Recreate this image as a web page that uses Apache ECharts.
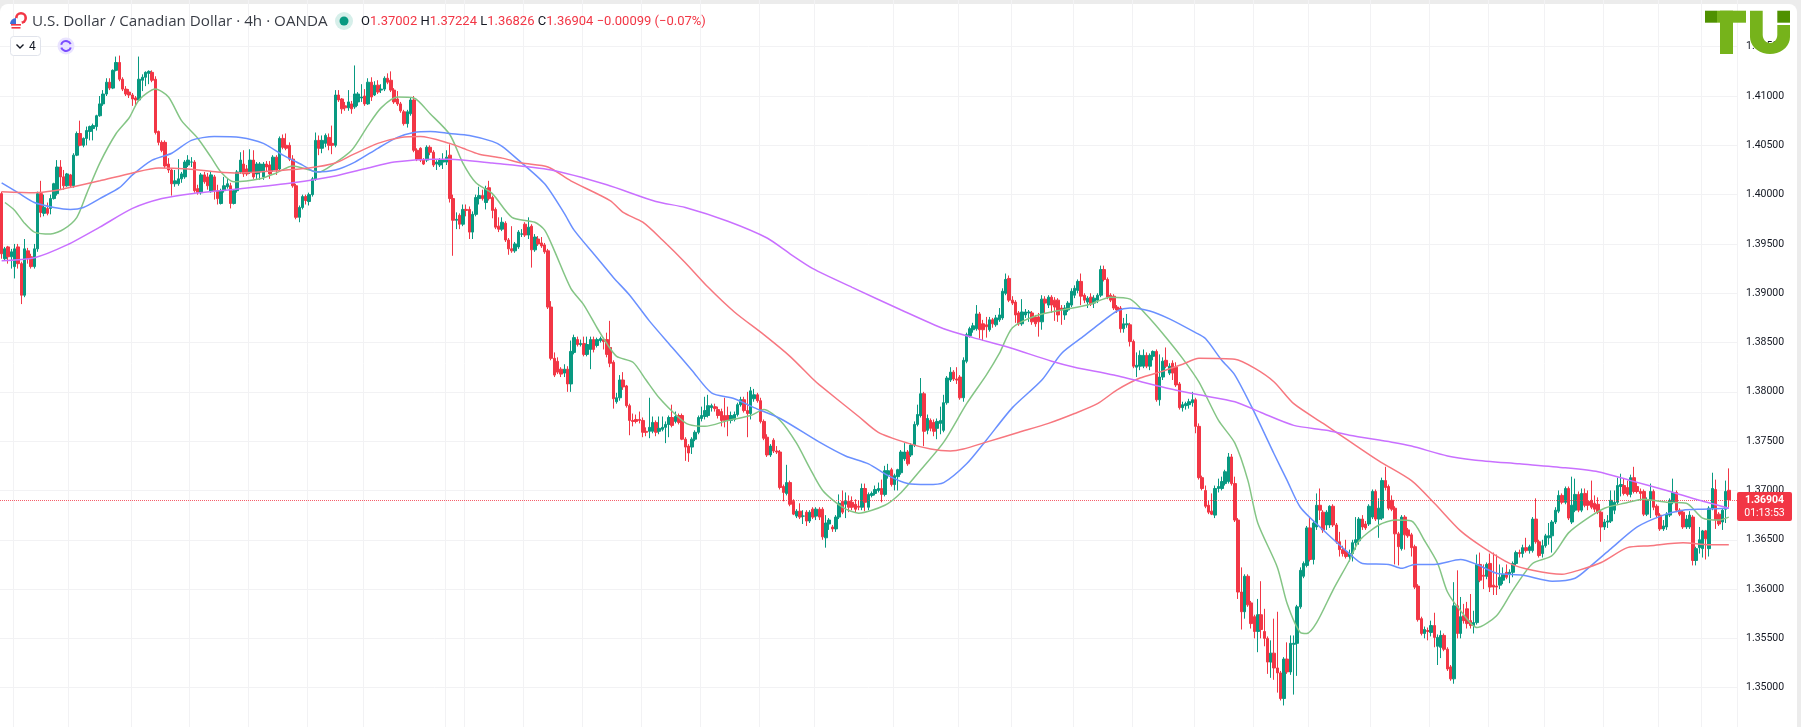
<!DOCTYPE html>
<html>
<head>
<meta charset="utf-8">
<style>html,body{margin:0;padding:0;background:#ececec}#chart{width:1801px;height:727px}</style>
<script src="https://cdn.jsdelivr.net/npm/echarts@6/dist/echarts.min.js"></script>
</head>
<body>
<div id="chart"></div>
<script>
// USD/CAD 4h candles, each row is [open, close, low, high]
const sessionsA = [
[1.4001,1.3940,1.3935,1.4003],[1.3935,1.3945,1.3933,1.3947],[1.3947,1.3937,1.3930,1.3948],[1.3937,1.3942,1.3925,1.3945],[1.3927,1.3945,1.3915,1.3950],[1.3947,1.3930,1.3925,1.3950],[1.3930,1.3898,1.3889,1.3932],[1.3898,1.3945,1.3896,1.3955],[1.3943,1.3935,1.3930,1.3946],[1.3937,1.3927,1.3925,1.3940],
[1.3927,1.3945,1.3925,1.3950],[1.3945,1.4001,1.3942,1.4003],[1.4001,1.3982,1.3977,1.4014],[1.3981,1.3987,1.3978,1.4000],[1.3986,1.3981,1.3979,1.3992],[1.3986,1.3996,1.3980,1.4000],[1.3996,1.4011,1.3995,1.4012],[1.4001,1.4028,1.3999,1.4035],[1.4028,1.4018,1.4005,1.4035],[1.4018,1.4009,1.4005,1.4025],
[1.4009,1.4021,1.4008,1.4022],[1.4020,1.4009,1.4007,1.4021],[1.4009,1.4040,1.4007,1.4042],[1.4040,1.4062,1.4039,1.4064],[1.4062,1.4050,1.4049,1.4075],[1.4050,1.4057,1.4048,1.4058],[1.4057,1.4065,1.4050,1.4069],[1.4064,1.4069,1.4055,1.4070],[1.4067,1.4070,1.4055,1.4072],[1.4069,1.4080,1.4065,1.4081],
[1.4080,1.4092,1.4079,1.4100],[1.4092,1.4102,1.4090,1.4106],[1.4102,1.4114,1.4100,1.4118],[1.4114,1.4108,1.4106,1.4118],[1.4108,1.4126,1.4107,1.4127],[1.4126,1.4134,1.4125,1.4140],[1.4134,1.4117,1.4115,1.4141],[1.4117,1.4107,1.4105,1.4119],[1.4107,1.4102,1.4100,1.4110],[1.4104,1.4101,1.4098,1.4107],
[1.4101,1.4097,1.4090,1.4103],[1.4098,1.4096,1.4090,1.4100],[1.4096,1.4117,1.4095,1.4140],[1.4116,1.4119,1.4105,1.4122],[1.4119,1.4124,1.4110,1.4125],[1.4123,1.4125,1.4112,1.4126],[1.4124,1.4116,1.4114,1.4126],[1.4117,1.4063,1.4061,1.4120],[1.4064,1.4053,1.4050,1.4065],[1.4053,1.4045,1.4043,1.4055]
];
const sessionsB = [
[1.4053,1.4029,1.4027,1.4055],[1.4031,1.4025,1.4022,1.4037],[1.4025,1.4011,1.3999,1.4027],[1.4011,1.4014,1.4008,1.4025],[1.4011,1.4016,1.4009,1.4036],[1.4016,1.4021,1.4012,1.4023],[1.4018,1.4033,1.4016,1.4035],[1.4030,1.4035,1.4028,1.4040],[1.4033,1.4033,1.4028,1.4038],[1.4033,1.4004,1.4002,1.4035],
[1.4006,1.4002,1.4000,1.4010],[1.4002,1.4020,1.4000,1.4022],[1.4020,1.4013,1.4011,1.4023],[1.4018,1.4009,1.4005,1.4022],[1.4003,1.4020,1.4002,1.4024],[1.4018,1.4004,1.3995,1.4020],[1.4004,1.3996,1.3990,1.4010],[1.3991,1.4004,1.3990,1.4006],[1.4004,1.4009,1.4002,1.4018],[1.4008,1.4011,1.4006,1.4016],
[1.4009,1.3991,1.3986,1.4012],[1.3991,1.4004,1.3990,1.4005],[1.4004,1.4023,1.4002,1.4025],[1.4023,1.4035,1.4021,1.4043],[1.4031,1.4021,1.4018,1.4045],[1.4026,1.4021,1.4019,1.4030],[1.4023,1.4035,1.4021,1.4046],[1.4035,1.4018,1.4016,1.4045],[1.4021,1.4031,1.4016,1.4033],[1.4023,1.4031,1.4015,1.4033],
[1.4018,1.4031,1.4015,1.4033],[1.4031,1.4028,1.4024,1.4034],[1.4030,1.4021,1.4016,1.4034],[1.4025,1.4038,1.4023,1.4040],[1.4038,1.4025,1.4020,1.4040],[1.4026,1.4057,1.4024,1.4059],[1.4057,1.4048,1.4046,1.4061],[1.4050,1.4047,1.4045,1.4062],[1.4050,1.4036,1.4034,1.4053],[1.4036,1.4009,1.4007,1.4040],
[1.4009,1.3977,1.3975,1.4011],[1.3977,1.3987,1.3972,1.3989],[1.3987,1.3998,1.3985,1.4000],[1.3998,1.3994,1.3990,1.4000],[1.3993,1.4000,1.3989,1.4002],[1.4000,1.4016,1.3998,1.4018],[1.4016,1.4055,1.4014,1.4063],[1.4055,1.4047,1.4040,1.4060],[1.4047,1.4055,1.4042,1.4060],[1.4052,1.4060,1.4048,1.4062]
];
const sessionsC = [
[1.4058,1.4050,1.4045,1.4062],[1.4052,1.4050,1.4041,1.4070],[1.4050,1.4101,1.4048,1.4106],[1.4101,1.4096,1.4094,1.4106],[1.4097,1.4087,1.4082,1.4098],[1.4090,1.4088,1.4085,1.4094],[1.4088,1.4094,1.4085,1.4106],[1.4092,1.4087,1.4082,1.4095],[1.4089,1.4102,1.4087,1.4131],[1.4094,1.4102,1.4090,1.4104],
[1.4098,1.4099,1.4094,1.4112],[1.4100,1.4092,1.4090,1.4107],[1.4092,1.4114,1.4091,1.4118],[1.4114,1.4099,1.4095,1.4119],[1.4101,1.4111,1.4100,1.4115],[1.4111,1.4104,1.4102,1.4116],[1.4106,1.4107,1.4103,1.4112],[1.4107,1.4118,1.4105,1.4120],[1.4118,1.4114,1.4112,1.4123],[1.4116,1.4106,1.4104,1.4125],
[1.4106,1.4094,1.4092,1.4108],[1.4097,1.4092,1.4090,1.4105],[1.4092,1.4085,1.4083,1.4094],[1.4084,1.4072,1.4070,1.4086],[1.4072,1.4084,1.4068,1.4086],[1.4082,1.4096,1.4080,1.4098],[1.4096,1.4045,1.4043,1.4100],[1.4045,1.4036,1.4034,1.4047],[1.4047,1.4035,1.4033,1.4048],[1.4035,1.4031,1.4030,1.4037],
[1.4035,1.4048,1.4033,1.4050],[1.4048,1.4043,1.4040,1.4050],[1.4043,1.4030,1.4028,1.4045],[1.4031,1.4033,1.4025,1.4035],[1.4030,1.4035,1.4028,1.4037],[1.4033,1.4035,1.4026,1.4042],[1.4033,1.4038,1.4030,1.4045],[1.4040,1.3996,1.3992,1.4051],[1.3996,1.3974,1.3938,1.4000],[1.3974,1.3975,1.3965,1.3982],
[1.3979,1.3970,1.3965,1.3981],[1.3970,1.3985,1.3968,1.3990],[1.3985,1.3984,1.3978,1.3990],[1.3985,1.3962,1.3955,1.3988],[1.3962,1.3980,1.3955,1.3983],[1.3980,1.3997,1.3978,1.4000],[1.3996,1.3999,1.3990,1.4008],[1.3999,1.3996,1.3994,1.4005],[1.3992,1.4006,1.3985,1.4009],[1.4007,1.3996,1.3994,1.4014]
];
const sessionsD = [
[1.3997,1.3984,1.3976,1.3999],[1.3985,1.3967,1.3965,1.3987],[1.3968,1.3965,1.3962,1.3977],[1.3965,1.3972,1.3963,1.3977],[1.3971,1.3954,1.3952,1.3973],[1.3954,1.3945,1.3939,1.3956],[1.3945,1.3943,1.3941,1.3968],[1.3943,1.3950,1.3941,1.3952],[1.3947,1.3962,1.3945,1.3964],[1.3960,1.3960,1.3957,1.3965],
[1.3970,1.3959,1.3957,1.3972],[1.3959,1.3967,1.3955,1.3977],[1.3968,1.3944,1.3926,1.3970],[1.3944,1.3957,1.3942,1.3960],[1.3955,1.3950,1.3948,1.3958],[1.3951,1.3948,1.3946,1.3957],[1.3949,1.3942,1.3940,1.3951],[1.3943,1.3886,1.3884,1.3945],[1.3886,1.3834,1.3832,1.3892],[1.3834,1.3817,1.3815,1.3840],
[1.3831,1.3820,1.3818,1.3835],[1.3823,1.3818,1.3815,1.3825],[1.3819,1.3823,1.3815,1.3828],[1.3823,1.3808,1.3800,1.3826],[1.3808,1.3841,1.3800,1.3852],[1.3840,1.3855,1.3838,1.3858],[1.3853,1.3848,1.3846,1.3856],[1.3848,1.3849,1.3846,1.3853],[1.3849,1.3838,1.3836,1.3856],[1.3838,1.3848,1.3836,1.3856],
[1.3843,1.3853,1.3823,1.3856],[1.3853,1.3843,1.3840,1.3856],[1.3847,1.3853,1.3845,1.3855],[1.3852,1.3854,1.3850,1.3856],[1.3853,1.3851,1.3843,1.3855],[1.3853,1.3838,1.3835,1.3860],[1.3845,1.3829,1.3825,1.3872],[1.3830,1.3793,1.3783,1.3832],[1.3790,1.3794,1.3788,1.3799],[1.3794,1.3812,1.3791,1.3817],
[1.3812,1.3805,1.3802,1.3820],[1.3806,1.3786,1.3784,1.3807],[1.3786,1.3771,1.3756,1.3788],[1.3771,1.3770,1.3765,1.3778],[1.3772,1.3770,1.3768,1.3777],[1.3772,1.3771,1.3768,1.3780],[1.3771,1.3759,1.3754,1.3774],[1.3760,1.3759,1.3755,1.3764],[1.3760,1.3764,1.3753,1.3794],[1.3760,1.3769,1.3758,1.3775]
];
const sessionsE = [
[1.3769,1.3759,1.3755,1.3771],[1.3760,1.3763,1.3757,1.3775],[1.3762,1.3764,1.3760,1.3775],[1.3764,1.3767,1.3748,1.3770],[1.3767,1.3774,1.3754,1.3776],[1.3774,1.3766,1.3764,1.3787],[1.3770,1.3775,1.3768,1.3780],[1.3776,1.3769,1.3767,1.3778],[1.3776,1.3752,1.3751,1.3778],[1.3752,1.3744,1.3730,1.3754],
[1.3745,1.3738,1.3729,1.3747],[1.3744,1.3752,1.3737,1.3754],[1.3752,1.3759,1.3750,1.3761],[1.3759,1.3774,1.3757,1.3776],[1.3773,1.3776,1.3770,1.3785],[1.3775,1.3781,1.3772,1.3795],[1.3776,1.3786,1.3774,1.3797],[1.3784,1.3786,1.3780,1.3788],[1.3785,1.3783,1.3780,1.3788],[1.3782,1.3776,1.3773,1.3785],
[1.3780,1.3771,1.3765,1.3783],[1.3776,1.3771,1.3764,1.3794],[1.3776,1.3771,1.3755,1.3785],[1.3771,1.3776,1.3768,1.3780],[1.3772,1.3777,1.3770,1.3780],[1.3777,1.3787,1.3775,1.3789],[1.3787,1.3792,1.3785,1.3795],[1.3792,1.3781,1.3779,1.3795],[1.3781,1.3778,1.3754,1.3800],[1.3778,1.3801,1.3772,1.3805],
[1.3793,1.3797,1.3790,1.3803],[1.3797,1.3791,1.3789,1.3799],[1.3791,1.3770,1.3768,1.3794],[1.3770,1.3753,1.3751,1.3772],[1.3754,1.3736,1.3734,1.3757],[1.3736,1.3745,1.3734,1.3747],[1.3751,1.3740,1.3738,1.3753],[1.3740,1.3739,1.3737,1.3745],[1.3739,1.3703,1.3701,1.3741],[1.3704,1.3698,1.3689,1.3706],
[1.3697,1.3708,1.3695,1.3726],[1.3708,1.3686,1.3684,1.3710],[1.3689,1.3676,1.3675,1.3691],[1.3674,1.3679,1.3672,1.3681],[1.3679,1.3673,1.3671,1.3687],[1.3674,1.3674,1.3666,1.3680],[1.3678,1.3669,1.3664,1.3680],[1.3669,1.3678,1.3667,1.3680],[1.3681,1.3673,1.3671,1.3683],[1.3674,1.3681,1.3670,1.3683]
];
const sessionsF = [
[1.3681,1.3673,1.3670,1.3683],[1.3681,1.3653,1.3650,1.3683],[1.3652,1.3667,1.3642,1.3675],[1.3666,1.3670,1.3660,1.3672],[1.3663,1.3661,1.3658,1.3665],[1.3661,1.3673,1.3658,1.3675],[1.3673,1.3687,1.3671,1.3696],[1.3689,1.3678,1.3676,1.3700],[1.3686,1.3689,1.3672,1.3698],[1.3689,1.3683,1.3678,1.3695],
[1.3688,1.3683,1.3680,1.3694],[1.3686,1.3681,1.3678,1.3691],[1.3684,1.3683,1.3680,1.3690],[1.3683,1.3702,1.3680,1.3707],[1.3702,1.3688,1.3679,1.3707],[1.3683,1.3696,1.3680,1.3698],[1.3695,1.3697,1.3693,1.3699],[1.3697,1.3701,1.3695,1.3705],[1.3700,1.3702,1.3698,1.3708],[1.3702,1.3696,1.3688,1.3711],
[1.3696,1.3720,1.3694,1.3725],[1.3716,1.3720,1.3712,1.3727],[1.3721,1.3706,1.3704,1.3723],[1.3706,1.3715,1.3700,1.3717],[1.3714,1.3721,1.3700,1.3722],[1.3718,1.3739,1.3716,1.3741],[1.3732,1.3739,1.3730,1.3748],[1.3739,1.3727,1.3725,1.3741],[1.3736,1.3746,1.3734,1.3748],[1.3746,1.3767,1.3744,1.3770],
[1.3767,1.3777,1.3765,1.3787],[1.3776,1.3798,1.3774,1.3814],[1.3798,1.3760,1.3745,1.3800],[1.3761,1.3773,1.3757,1.3777],[1.3771,1.3763,1.3760,1.3773],[1.3769,1.3760,1.3755,1.3772],[1.3763,1.3770,1.3752,1.3773],[1.3768,1.3771,1.3757,1.3785],[1.3761,1.3789,1.3759,1.3797],[1.3789,1.3814,1.3787,1.3816],
[1.3812,1.3820,1.3810,1.3825],[1.3820,1.3813,1.3811,1.3822],[1.3813,1.3812,1.3808,1.3825],[1.3815,1.3794,1.3792,1.3817],[1.3794,1.3832,1.3790,1.3835],[1.3831,1.3858,1.3829,1.3860],[1.3857,1.3864,1.3855,1.3866],[1.3863,1.3867,1.3860,1.3870],[1.3864,1.3879,1.3862,1.3888],[1.3879,1.3863,1.3854,1.3881]
];
const sessionsG = [
[1.3869,1.3863,1.3852,1.3873],[1.3868,1.3866,1.3855,1.3876],[1.3863,1.3873,1.3861,1.3876],[1.3873,1.3869,1.3865,1.3875],[1.3868,1.3875,1.3866,1.3878],[1.3873,1.3878,1.3871,1.3885],[1.3875,1.3902,1.3873,1.3905],[1.3900,1.3914,1.3898,1.3920],[1.3915,1.3893,1.3891,1.3918],[1.3893,1.3890,1.3888,1.3897],
[1.3891,1.3878,1.3870,1.3893],[1.3880,1.3869,1.3867,1.3882],[1.3869,1.3881,1.3867,1.3894],[1.3878,1.3881,1.3875,1.3884],[1.3880,1.3881,1.3871,1.3883],[1.3880,1.3871,1.3868,1.3882],[1.3876,1.3869,1.3866,1.3878],[1.3876,1.3871,1.3856,1.3880],[1.3871,1.3894,1.3863,1.3898],[1.3894,1.3890,1.3880,1.3897],
[1.3888,1.3896,1.3885,1.3898],[1.3896,1.3888,1.3880,1.3898],[1.3893,1.3886,1.3872,1.3896],[1.3893,1.3878,1.3871,1.3895],[1.3885,1.3883,1.3868,1.3888],[1.3878,1.3885,1.3873,1.3888],[1.3883,1.3890,1.3881,1.3892],[1.3888,1.3902,1.3886,1.3905],[1.3898,1.3905,1.3895,1.3908],[1.3903,1.3912,1.3900,1.3914],
[1.3912,1.3897,1.3888,1.3920],[1.3898,1.3893,1.3890,1.3900],[1.3891,1.3895,1.3885,1.3897],[1.3896,1.3889,1.3887,1.3900],[1.3890,1.3895,1.3885,1.3898],[1.3893,1.3898,1.3890,1.3900],[1.3898,1.3924,1.3896,1.3928],[1.3924,1.3914,1.3912,1.3928],[1.3914,1.3896,1.3894,1.3916],[1.3898,1.3893,1.3891,1.3900],
[1.3897,1.3885,1.3883,1.3899],[1.3886,1.3883,1.3880,1.3888],[1.3885,1.3864,1.3860,1.3887],[1.3864,1.3869,1.3860,1.3875],[1.3868,1.3869,1.3865,1.3879],[1.3868,1.3851,1.3846,1.3870],[1.3851,1.3826,1.3824,1.3853],[1.3825,1.3827,1.3815,1.3840],[1.3826,1.3837,1.3822,1.3842],[1.3826,1.3837,1.3824,1.3843]
];
const sessionsH = [
[1.3837,1.3826,1.3824,1.3840],[1.3826,1.3837,1.3822,1.3839],[1.3836,1.3841,1.3832,1.3842],[1.3841,1.3792,1.3790,1.3843],[1.3792,1.3815,1.3786,1.3838],[1.3815,1.3831,1.3812,1.3835],[1.3832,1.3826,1.3824,1.3845],[1.3819,1.3826,1.3817,1.3829],[1.3829,1.3819,1.3812,1.3832],[1.3825,1.3807,1.3805,1.3830],
[1.3808,1.3784,1.3782,1.3810],[1.3784,1.3787,1.3780,1.3790],[1.3786,1.3788,1.3782,1.3790],[1.3787,1.3790,1.3783,1.3793],[1.3789,1.3792,1.3785,1.3800],[1.3792,1.3765,1.3758,1.3794],[1.3765,1.3713,1.3711,1.3768],[1.3713,1.3702,1.3700,1.3715],[1.3700,1.3684,1.3682,1.3705],[1.3685,1.3678,1.3676,1.3690],
[1.3679,1.3676,1.3675,1.3697],[1.3675,1.3702,1.3672,1.3705],[1.3702,1.3704,1.3698,1.3712],[1.3702,1.3709,1.3700,1.3714],[1.3707,1.3719,1.3705,1.3721],[1.3709,1.3734,1.3707,1.3738],[1.3734,1.3707,1.3705,1.3737],[1.3707,1.3670,1.3668,1.3714],[1.3670,1.3597,1.3590,1.3672],[1.3597,1.3577,1.3559,1.3622],
[1.3577,1.3613,1.3570,1.3615],[1.3613,1.3584,1.3582,1.3615],[1.3586,1.3565,1.3560,1.3588],[1.3572,1.3557,1.3550,1.3574],[1.3557,1.3574,1.3536,1.3590],[1.3574,1.3559,1.3550,1.3608],[1.3557,1.3550,1.3542,1.3580],[1.3550,1.3526,1.3514,1.3552],[1.3526,1.3535,1.3510,1.3548],[1.3535,1.3520,1.3508,1.3570],
[1.3520,1.3515,1.3495,1.3577],[1.3515,1.3489,1.3487,1.3517],[1.3489,1.3529,1.3482,1.3531],[1.3529,1.3516,1.3514,1.3546],[1.3516,1.3545,1.3513,1.3553],[1.3544,1.3545,1.3493,1.3553],[1.3545,1.3582,1.3512,1.3584],[1.3582,1.3619,1.3580,1.3622],[1.3613,1.3626,1.3611,1.3628],[1.3624,1.3662,1.3622,1.3664]
];
const sessionsI = [
[1.3662,1.3630,1.3628,1.3672],[1.3630,1.3667,1.3625,1.3670],[1.3663,1.3685,1.3660,1.3697],[1.3685,1.3680,1.3670,1.3702],[1.3678,1.3660,1.3657,1.3680],[1.3665,1.3678,1.3660,1.3680],[1.3665,1.3684,1.3662,1.3685],[1.3684,1.3665,1.3663,1.3686],[1.3665,1.3648,1.3646,1.3667],[1.3648,1.3640,1.3633,1.3658],
[1.3640,1.3636,1.3633,1.3644],[1.3638,1.3633,1.3631,1.3650],[1.3633,1.3636,1.3628,1.3640],[1.3636,1.3647,1.3628,1.3650],[1.3647,1.3650,1.3640,1.3673],[1.3649,1.3671,1.3645,1.3673],[1.3671,1.3663,1.3660,1.3675],[1.3666,1.3662,1.3660,1.3669],[1.3666,1.3684,1.3664,1.3686],[1.3673,1.3699,1.3671,1.3701],
[1.3699,1.3671,1.3669,1.3701],[1.3671,1.3682,1.3652,1.3692],[1.3672,1.3710,1.3670,1.3713],[1.3710,1.3703,1.3700,1.3724],[1.3704,1.3682,1.3680,1.3706],[1.3690,1.3681,1.3679,1.3695],[1.3682,1.3656,1.3625,1.3684],[1.3656,1.3643,1.3624,1.3658],[1.3641,1.3673,1.3639,1.3675],[1.3673,1.3655,1.3640,1.3675],
[1.3660,1.3654,1.3652,1.3662],[1.3655,1.3642,1.3633,1.3657],[1.3643,1.3602,1.3600,1.3645],[1.3603,1.3569,1.3567,1.3605],[1.3570,1.3555,1.3553,1.3572],[1.3555,1.3559,1.3550,1.3562],[1.3558,1.3557,1.3548,1.3561],[1.3556,1.3563,1.3552,1.3568],[1.3563,1.3551,1.3541,1.3576],[1.3542,1.3551,1.3523,1.3554],
[1.3541,1.3553,1.3530,1.3558],[1.3553,1.3539,1.3537,1.3555],[1.3539,1.3519,1.3517,1.3541],[1.3521,1.3509,1.3507,1.3523],[1.3509,1.3583,1.3504,1.3607],[1.3583,1.3555,1.3550,1.3619],[1.3555,1.3572,1.3550,1.3592],[1.3573,1.3568,1.3565,1.3585],[1.3580,1.3565,1.3560,1.3587],[1.3568,1.3563,1.3560,1.3595]
];
const sessionsJ = [
[1.3563,1.3566,1.3555,1.3578],[1.3566,1.3625,1.3564,1.3635],[1.3625,1.3609,1.3607,1.3637],[1.3614,1.3613,1.3600,1.3625],[1.3613,1.3625,1.3610,1.3627],[1.3626,1.3602,1.3597,1.3636],[1.3604,1.3602,1.3594,1.3637],[1.3603,1.3602,1.3594,1.3635],[1.3604,1.3612,1.3600,1.3625],[1.3609,1.3615,1.3605,1.3622],
[1.3617,1.3612,1.3610,1.3625],[1.3615,1.3617,1.3606,1.3620],[1.3617,1.3626,1.3612,1.3628],[1.3626,1.3637,1.3624,1.3639],[1.3637,1.3636,1.3632,1.3640],[1.3636,1.3642,1.3632,1.3645],[1.3642,1.3639,1.3637,1.3652],[1.3639,1.3643,1.3636,1.3645],[1.3639,1.3671,1.3637,1.3673],[1.3671,1.3648,1.3646,1.3692],
[1.3648,1.3634,1.3632,1.3650],[1.3636,1.3644,1.3632,1.3650],[1.3644,1.3654,1.3642,1.3656],[1.3652,1.3654,1.3645,1.3667],[1.3654,1.3668,1.3637,1.3670],[1.3668,1.3680,1.3666,1.3683],[1.3679,1.3695,1.3677,1.3700],[1.3695,1.3688,1.3686,1.3697],[1.3688,1.3702,1.3686,1.3704],[1.3702,1.3672,1.3670,1.3704],
[1.3668,1.3685,1.3666,1.3714],[1.3680,1.3696,1.3678,1.3712],[1.3696,1.3680,1.3678,1.3699],[1.3680,1.3697,1.3678,1.3702],[1.3697,1.3685,1.3683,1.3702],[1.3689,1.3685,1.3680,1.3700],[1.3690,1.3683,1.3681,1.3710],[1.3687,1.3681,1.3678,1.3695],[1.3686,1.3678,1.3676,1.3693],[1.3678,1.3663,1.3648,1.3680],
[1.3663,1.3668,1.3660,1.3671],[1.3668,1.3669,1.3662,1.3675],[1.3669,1.3690,1.3667,1.3700],[1.3680,1.3688,1.3676,1.3700],[1.3688,1.3705,1.3686,1.3713],[1.3704,1.3706,1.3694,1.3717],[1.3705,1.3697,1.3695,1.3712],[1.3703,1.3696,1.3694,1.3710],[1.3696,1.3713,1.3693,1.3716],[1.3713,1.3699,1.3697,1.3724]
];
const sessionsK = [
[1.3704,1.3699,1.3697,1.3708],[1.3699,1.3697,1.3690,1.3702],[1.3699,1.3676,1.3674,1.3701],[1.3676,1.3690,1.3674,1.3693],[1.3690,1.3699,1.3672,1.3707],[1.3699,1.3683,1.3680,1.3701],[1.3684,1.3675,1.3673,1.3686],[1.3675,1.3661,1.3659,1.3677],[1.3661,1.3664,1.3659,1.3670],[1.3663,1.3676,1.3660,1.3678],
[1.3675,1.3690,1.3673,1.3692],[1.3688,1.3698,1.3686,1.3712],[1.3698,1.3680,1.3678,1.3700],[1.3680,1.3676,1.3674,1.3682],[1.3678,1.3663,1.3661,1.3680],[1.3663,1.3671,1.3661,1.3675],[1.3663,1.3675,1.3661,1.3679],[1.3673,1.3629,1.3624,1.3675],[1.3629,1.3641,1.3624,1.3643],[1.3642,1.3650,1.3636,1.3663],
[1.3641,1.3659,1.3632,1.3660],[1.3659,1.3651,1.3630,1.3660],[1.3641,1.3682,1.3633,1.3684],[1.3682,1.3702,1.3680,1.3718],[1.3701,1.3670,1.3661,1.3711],[1.3676,1.3666,1.3664,1.3678],[1.3668,1.3680,1.3660,1.3682],[1.3681,1.3699,1.3667,1.3710],[1.37002,1.36904,1.36826,1.37224]
];

// Moving averages, each row is [candle index, price]
const fastAverage = [[1,1.3992],[4,1.3984],[7,1.3971],[10,1.3962],[15,1.3960],[19,1.3965],[23,1.3977],[26,1.4001],[30,1.4032],[35,1.4062],[39,1.4078],[42,1.4096],[47,1.4107],[51,1.4099],[55,1.4075],[60,1.4057],[64,1.4038],[67,1.4023],[71,1.4013],[79,1.4016],[84,1.4022],[89,1.4029],[97,1.4023],[101,1.4030],[107,1.4045],[112,1.4070],[116,1.4088],[121,1.4099],[126,1.4098],[131,1.4082],[137,1.4061],[141,1.4032],[145,1.4012],[150,1.4001],[156,1.3977],[163,1.3972],[166,1.3964],[169,1.3943],[174,1.3905],[178,1.3888],[182,1.3865],[185,1.3849],[188,1.3836],[193,1.3830],[197,1.3812],[201,1.3794],[207,1.3774],[210,1.3767],[215,1.3765],[222,1.3771],[229,1.3776],[233,1.3782],[238,1.3771],[243,1.3748],[247,1.3723],[251,1.3700],[257,1.3683],[262,1.3677],[270,1.3685],[275,1.3698],[281,1.3721],[288,1.3749],[295,1.3788],[301,1.3817],[305,1.3839],[309,1.3865],[316,1.3877],[324,1.3883],[332,1.3888],[339,1.3896],[345,1.3894],[350,1.3878],[355,1.3859],[361,1.3834],[366,1.3810],[372,1.3771],[377,1.3748],[381,1.3710],[384,1.3667],[390,1.3622],[393,1.3585],[397,1.3556],[399,1.3555],[402,1.3566],[407,1.3599],[412,1.3629],[415,1.3649],[421,1.3665],[426,1.3670],[431,1.3669],[435,1.3649],[439,1.3626],[442,1.3597],[446,1.3578],[451,1.3561],[457,1.3573],[462,1.3599],[468,1.3626],[474,1.3634],[479,1.3657],[484,1.3670],[490,1.3682],[496,1.3687],[502,1.3691],[509,1.3688],[515,1.3687],[520,1.3672],[525,1.3670],[528,1.3673]];
const mediumAverage = [[0,1.4012],[5,1.4002],[10,1.3992],[16,1.3987],[21,1.3985],[25,1.3987],[30,1.3996],[36,1.4007],[40,1.4020],[46,1.4035],[52,1.4042],[58,1.4055],[65,1.4059],[73,1.4058],[80,1.4052],[86,1.4040],[92,1.4030],[96,1.4023],[102,1.4025],[108,1.4033],[115,1.4047],[121,1.4058],[126,1.4063],[131,1.4064],[137,1.4062],[143,1.4060],[150,1.4054],[153,1.4049],[158,1.4035],[166,1.4011],[172,1.3981],[175,1.3964],[182,1.3936],[187,1.3916],[192,1.3898],[198,1.3872],[205,1.3845],[211,1.3822],[217,1.3799],[224,1.3793],[230,1.3784],[238,1.3773],[250,1.3749],[258,1.3735],[265,1.3727],[271,1.3715],[277,1.3707],[283,1.3706],[288,1.3708],[295,1.3727],[301,1.3751],[309,1.3784],[318,1.3812],[324,1.3839],[331,1.3857],[336,1.3870],[341,1.3882],[345,1.3885],[351,1.3882],[357,1.3874],[365,1.3860],[368,1.3854],[373,1.3832],[377,1.3817],[383,1.3779],[389,1.3737],[393,1.3710],[397,1.3683],[403,1.3663],[412,1.3636],[416,1.3626],[424,1.3625],[428,1.3621],[432,1.3625],[438,1.3625],[446,1.3630],[451,1.3625],[457,1.3616],[465,1.3614],[474,1.3608],[481,1.3611],[486,1.3624],[492,1.3641],[500,1.3663],[508,1.3675],[514,1.3680],[520,1.3681],[528,1.3682]];
const slowAverage = [[0,1.4003],[10,1.4002],[16,1.4004],[22,1.4008],[30,1.4014],[40,1.4022],[48,1.4027],[57,1.4026],[66,1.4023],[73,1.4022],[83,1.4024],[94,1.4027],[102,1.4032],[107,1.4040],[115,1.4052],[122,1.4058],[128,1.4059],[137,1.4052],[141,1.4047],[146,1.4041],[153,1.4037],[159,1.4032],[167,1.4028],[174,1.4014],[186,1.3994],[190,1.3982],[196,1.3972],[202,1.3954],[209,1.3931],[216,1.3906],[224,1.3881],[233,1.3858],[241,1.3836],[248,1.3813],[250,1.3807],[262,1.3775],[268,1.3759],[277,1.3748],[284,1.3742],[290,1.3740],[294,1.3742],[301,1.3749],[311,1.3759],[320,1.3768],[328,1.3778],[335,1.3788],[341,1.3802],[348,1.3814],[354,1.3820],[361,1.3828],[366,1.3834],[377,1.3833],[383,1.3824],[389,1.3810],[395,1.3788],[404,1.3768],[412,1.3750],[421,1.3730],[431,1.3710],[438,1.3687],[446,1.3659],[453,1.3642],[461,1.3626],[468,1.3619],[477,1.3615],[482,1.3619],[489,1.3627],[497,1.3642],[504,1.3644],[514,1.3647],[522,1.3645],[528,1.3645]];
const longAverage = [[0,1.3933],[10,1.3936],[20,1.3949],[30,1.3967],[40,1.3986],[49,1.3996],[58,1.4001],[73,1.4006],[89,1.4012],[102,1.4019],[112,1.4027],[120,1.4033],[132,1.4036],[137,1.4036],[150,1.4032],[168,1.4025],[185,1.4010],[200,1.3993],[209,1.3987],[222,1.3973],[234,1.3956],[241,1.3940],[248,1.3925],[260,1.3906],[275,1.3883],[288,1.3864],[297,1.3855],[308,1.3845],[321,1.3831],[328,1.3825],[340,1.3817],[356,1.3804],[366,1.3797],[377,1.3790],[385,1.3779],[395,1.3766],[405,1.3761],[412,1.3756],[425,1.3749],[431,1.3745],[442,1.3735],[450,1.3731],[464,1.3727],[478,1.3723],[488,1.3719],[498,1.3710],[509,1.3700],[519,1.3690],[528,1.3682]];

// Candle indices where a date line falls
const dateLineIndices = [4,21,40,58,76,94,111,136,142,160,178,196,214,232,249,273,293,309,328,346,365,383,400,419,437,455,472,490,507,520];

const candles = [].concat(sessionsA, sessionsB, sessionsC, sessionsD, sessionsE, sessionsF, sessionsG, sessionsH, sessionsI, sessionsJ, sessionsK);
const rightPadding = 2;
const categories = candles.concat(new Array(rightPadding).fill(0)).map((_, i) => i);
const lastCandle = candles[candles.length - 1];
const lastClose = lastCandle[1];
const dateLineSet = new Set(dateLineIndices);

const UP = '#089981';
const DOWN = '#F23645';
const TEXT = '#131722';
const FONT = 'Roboto, "Open Sans", sans-serif';

function averageLine(name, data, color) {
  return {
    name, type: 'line', data, showSymbol: false, smooth: 0.25, silent: true,
    lineStyle: { color, width: 1.5 }, z: 4
  };
}

// Outline of the U in the publisher mark: a leg, the inner bowl, a short leg, the outer bowl
function markBowlPoints() {
  const pts = [[1750, 10.7], [1762.7, 10.7]];
  for (let a = 180; a >= 0; a -= 15) {
    const t = a * Math.PI / 180;
    pts.push([1770 + 7.3 * Math.cos(t), 35 + 8 * Math.sin(t)]);
  }
  pts.push([1777.3, 25], [1790, 25]);
  for (let a = 0; a <= 180; a += 10) {
    const t = a * Math.PI / 180;
    pts.push([1770 + 20 * Math.cos(t), 37 + 17 * Math.sin(t)]);
  }
  return pts;
}

const chart = echarts.init(document.getElementById('chart'), null, { renderer: 'canvas' });
chart.setOption({
  animation: false,
  backgroundColor: '#ececec',
  grid: { left: 0, width: 1737, top: -2.6, height: 739.6, show: false, outerBoundsMode: 'none' },
  xAxis: {
    type: 'category', data: categories,
    axisLine: { show: false }, axisTick: { show: false }, axisLabel: { show: false },
    splitLine: {
      show: true,
      interval: (index) => dateLineSet.has(index),
      lineStyle: { color: '#f2f2f4', width: 1 }
    }
  },
  yAxis: {
    type: 'value', position: 'right', min: 1.345, max: 1.42, interval: 0.005,
    axisLine: { show: false }, axisTick: { show: false },
    axisLabel: {
      margin: 9, color: TEXT, fontFamily: FONT, fontSize: 10.5, padding: [6, 0, 0, 0],
      showMinLabel: false, showMaxLabel: false,
      formatter: (v) => v.toFixed(5)
    },
    splitLine: { show: true, lineStyle: { color: '#f2f2f4', width: 1 } }
  },
  series: [
    {
      name: 'USD/CAD', type: 'candlestick', data: candles, barWidth: 3, silent: true,
      itemStyle: {
        color: UP, color0: DOWN, borderColor: UP, borderColor0: DOWN,
        borderColorDoji: UP, borderWidth: 1
      },
      markLine: {
        silent: true, symbol: 'none', animation: false, z: 3, precision: 5,
        label: { show: false },
        lineStyle: { color: DOWN, type: 'dotted', width: 1, opacity: 0.8 },
        data: [{ yAxis: lastClose }]
      }
    },
    averageLine('Average 20', fastAverage, '#84c585'),
    averageLine('Average 50', mediumAverage, '#6a90ff'),
    averageLine('Average 100', slowAverage, '#f7777f'),
    averageLine('Average 200', longAverage, '#c970ff')
  ],
  graphic: [
    // white panel behind the plot
    { type: 'rect', z: -10, silent: true, shape: { x: 0, y: 4, width: 1797, height: 740, r: 8 }, style: { fill: '#ffffff' } },

    // instrument title with the pair's flag badge
    { type: 'circle', z: 50, shape: { cx: 21, cy: 18, r: 6 }, style: { fill: '#F23645' } },
    { type: 'circle', z: 50, shape: { cx: 21, cy: 18, r: 3.4 }, style: { fill: '#ffffff' } },
    { type: 'circle', z: 51, shape: { cx: 16, cy: 24, r: 6 }, style: { fill: '#ffffff' } },
    { type: 'sector', z: 51, shape: { cx: 16, cy: 24, r: 6, startAngle: Math.PI, endAngle: Math.PI * 1.5 }, style: { fill: '#3f6fd8' } },
    { type: 'rect', z: 51, shape: { x: 11, y: 24, width: 10, height: 1.6 }, style: { fill: '#F23645' } },
    { type: 'rect', z: 51, shape: { x: 11.5, y: 27, width: 9, height: 1.6 }, style: { fill: '#F23645' } },
    { type: 'text', z: 50, style: { x: 32, y: 22, text: 'U.S. Dollar / Canadian Dollar · 4h · OANDA', fill: TEXT, opacity: 0.85, font: '15.2px "Open Sans", sans-serif', verticalAlign: 'middle' } },
    { type: 'circle', z: 50, shape: { cx: 344, cy: 21, r: 9 }, style: { fill: '#d6efea' } },
    { type: 'circle', z: 51, shape: { cx: 344, cy: 21, r: 4.5 }, style: { fill: UP } },
    { type: 'text', z: 50, style: {
        x: 361, y: 22, verticalAlign: 'middle', font: '13px ' + FONT, fill: TEXT,
        text: '{k|O}{v|1.37002} {k|H}{v|1.37224} {k|L}{v|1.36826} {k|C}{v|1.36904} {v|−0.00099 (−0.07%)}',
        rich: {
          k: { fill: TEXT, font: '13px ' + FONT },
          v: { fill: DOWN, font: '13px ' + FONT }
        }
      } },

    // indicator collapse button and the reload badge
    { type: 'rect', z: 50, shape: { x: 10.5, y: 36.5, width: 30, height: 19, r: 3 }, style: { fill: '#ffffff', stroke: '#e0e3eb', lineWidth: 1 } },
    { type: 'polyline', z: 51, shape: { points: [[16.5, 44.5], [20, 48], [23.5, 44.5]] }, style: { fill: 'none', stroke: TEXT, lineWidth: 1.4 } },
    { type: 'text', z: 51, style: { x: 29, y: 46.5, text: '4', fill: TEXT, font: '12px ' + FONT, verticalAlign: 'middle' } },
    { type: 'circle', z: 50, shape: { cx: 66, cy: 46, r: 8.5 }, style: { fill: '#e9e3ff' } },
    { type: 'arc', z: 51, shape: { cx: 66, cy: 46, r: 5, startAngle: 0.3, endAngle: 2.8 }, style: { fill: 'none', stroke: '#7a4dff', lineWidth: 2 } },
    { type: 'arc', z: 51, shape: { cx: 66, cy: 46, r: 5, startAngle: 3.4, endAngle: 5.9 }, style: { fill: 'none', stroke: '#7a4dff', lineWidth: 2 } },

    // last price tag on the axis
    { type: 'rect', z: 50, shape: { x: 1737, y: 492, width: 55, height: 29, r: 2 }, style: { fill: DOWN } },
    { type: 'text', z: 51, style: { x: 1764.5, y: 500.5, text: lastClose.toFixed(5), fill: '#ffffff', font: 'bold 10.5px ' + FONT, align: 'center', verticalAlign: 'middle' } },
    { type: 'text', z: 51, style: { x: 1764.5, y: 513.5, text: '01:13:53', fill: '#ffffff', font: '10.5px ' + FONT, align: 'center', verticalAlign: 'middle' } },

    // publisher mark over the top of the axis
    { type: 'rect', z: 60, shape: { x: 1705, y: 10.7, width: 12, height: 12 }, style: { fill: '#4f9100' } },
    { type: 'rect', z: 60, shape: { x: 1717, y: 10.7, width: 29, height: 12 }, style: { fill: '#76b31b' } },
    { type: 'rect', z: 60, shape: { x: 1720, y: 10.7, width: 13, height: 43.3 }, style: { fill: '#76b31b' } },
    { type: 'polygon', z: 60, shape: { points: markBowlPoints() }, style: { fill: '#76b31b' } },
    { type: 'rect', z: 60, shape: { x: 1777.3, y: 10.7, width: 12.7, height: 12 }, style: { fill: '#4f9100' } }
  ]
});
</script>
</body>
</html>
